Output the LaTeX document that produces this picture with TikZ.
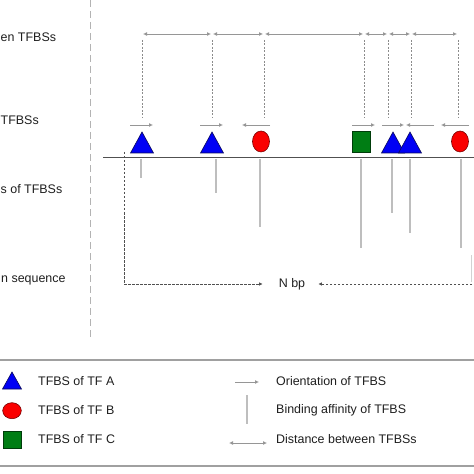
\documentclass[tikz,border=0pt]{standalone}
\usepackage{fontspec}
\setmainfont{Liberation Sans}
\usetikzlibrary{arrows.meta}
\definecolor{tfblue}{RGB}{0,0,245}
\definecolor{tfblueedge}{RGB}{10,10,90}
\definecolor{tfred}{RGB}{250,0,0}
\definecolor{tfrededge}{RGB}{120,0,0}
\definecolor{tfgreen}{RGB}{0,125,20}
\definecolor{tfgreenedge}{RGB}{0,60,10}
\definecolor{arrgray}{RGB}{150,150,150}
\definecolor{affgray}{RGB}{190,190,190}
\definecolor{guidegray}{RGB}{140,140,140}
\definecolor{seqgray}{RGB}{80,80,80}
\definecolor{rulegray}{RGB}{160,160,160}
\definecolor{txt}{RGB}{30,30,30}
\begin{document}
\begin{tikzpicture}[x=1bp,y=-1bp,
  lbl/.style={font=\fontsize{12.5}{14}\selectfont, inner sep=0pt, text=txt},
  tfa/.style={fill=tfblue, draw=tfblueedge, line width=0.6bp},
  tfb/.style={fill=tfred, draw=tfrededge, line width=0.6bp},
  tfc/.style={fill=tfgreen, draw=tfgreenedge, line width=0.6bp},
  orient/.style={draw=arrgray, line width=0.8bp, -{Latex[length=4bp,width=4bp]}},
  dist/.style={draw=arrgray, line width=0.8bp, {Latex[length=4bp,width=4bp]}-{Latex[length=4bp,width=4bp]}, shorten <=1bp, shorten >=1bp},
  guide/.style={draw=guidegray, line width=0.8bp, dash pattern=on 2bp off 1.5bp},
  affin/.style={draw=affgray, line width=1.3bp},
  bracket/.style={draw=seqgray, line width=0.8bp, dash pattern=on 2.5bp off 1.5bp},
  divider/.style={draw=rulegray!80, line width=1bp, dash pattern=on 7bp off 4bp},
  rulestyle/.style={draw=rulegray, line width=1.5bp},
  tria/.pic={\path[tfa] (-11.5,10.5) -- (0,-10.5) -- (11.5,10.5) -- cycle;},
  circb/.pic={\path[tfb] (0,0) ellipse [x radius=8.5, y radius=10.5];},
  sqc/.pic={\path[tfc] (-9,-10.5) rectangle (9,10.5);},
  ltria/.pic={\path[tfa] (-9.5,8.5) -- (0,-8.5) -- (9.5,8.5) -- cycle;},
  lcircb/.pic={\path[tfb] (0,0) ellipse [x radius=9.3, y radius=8];},
  lsqc/.pic={\path[tfc] (-9.2,-8.7) rectangle (9.2,8.7);}
]
\useasboundingbox (0,0) rectangle (474,474);

% divider
\coordinate (dvtop) at (90,0);
\coordinate (dvbot) at (90,340);
\draw[divider] (dvtop) -- (dvbot);

% left labels
\node[lbl, anchor=west] (l1) at (0.5,37) {en TFBSs};
\node[lbl, anchor=west] (l2) at (0.5,120) {TFBSs};
\node[lbl, anchor=west] (l3) at (0.5,189) {s of TFBSs};
\node[lbl, anchor=west] (l4) at (1,280) {n sequence};

% sequence line
\coordinate (seqL) at (103,157.5);
\coordinate (seqR) at (474,157.5);
\draw[seqgray, line width=1.4bp] (seqL) -- (seqR);

% sites
\pic (s1) at (142,142.5) {tria};
\pic (s2) at (212,142.5) {tria};
\pic (s3) at (261,141.5) {circb};
\pic (s4) at (361,141.5) {sqc};
\pic (s5) at (393,142.5) {tria};
\pic (s6) at (410,142.5) {tria};
\pic (s7) at (460,141.5) {circb};

% orientation arrows
\coordinate (o1a) at (130,125); \coordinate (o1b) at (153,125);
\coordinate (o2a) at (200,125); \coordinate (o2b) at (223,125);
\coordinate (o3a) at (270,125); \coordinate (o3b) at (242,125);
\coordinate (o4a) at (352,125); \coordinate (o4b) at (375,125);
\coordinate (o5a) at (382,125); \coordinate (o5b) at (404,125);
\coordinate (o6a) at (434,125); \coordinate (o6b) at (406,125);
\coordinate (o7a) at (469,125); \coordinate (o7b) at (441,125);
\foreach \i in {1,...,7}{\draw[orient] (o\i a) -- (o\i b);}

% guide lines and distance arrows
\foreach \i/\x in {1/142,2/212,3/264,4/364,5/388,6/411,7/458}{
  \coordinate (d\i) at (\x,34);
  \coordinate (g\i t) at (\x,40);
  \coordinate (g\i b) at (\x,118);
  \draw[guide] (g\i t) -- (g\i b);
}
\foreach \i/\j in {1/2,2/3,3/4,4/5,5/6,6/7}{\draw[dist] (d\i) -- (d\j);}

% binding affinities
\foreach \i/\x/\y in {1/141/178,2/216/193,3/260/227,4/361/248,5/392/213,6/410/233,7/461/248}{
  \coordinate (a\i t) at (\x,159);
  \coordinate (a\i b) at (\x,\y);
  \draw[affin] (a\i t) -- (a\i b);
}

% N bp bracket
\coordinate (bTop) at (124,152);
\coordinate (bCorner) at (124,284);
\node[lbl] (nbp) at (292,284) {N bp};
\coordinate (bRight) at (476,284);
\coordinate (bRtop) at (471,255);
\coordinate (bRbot) at (471,282);
\draw[bracket, -{Latex[length=3.5bp,width=3.5bp]}] (bTop) -- (bCorner) -- ([xshift=-16bp]nbp.west);
\draw[bracket, -{Latex[length=3.5bp,width=3.5bp]}] (bRight) -- ([xshift=13bp]nbp.east);
\draw[affgray!70, line width=0.8bp] (bRtop) -- (bRbot);

% legend frame
\coordinate (r1l) at (0,360); \coordinate (r1r) at (474,360);
\coordinate (r2l) at (0,466); \coordinate (r2r) at (474,466);
\draw[rulestyle] (r1l) -- (r1r);
\draw[rulestyle] (r2l) -- (r2r);

% legend left
\pic (k1) at (12,380.5) {ltria};
\pic (k2) at (12,410.7) {lcircb};
\pic (k3) at (12,439.5) {lsqc};
\node[lbl, anchor=west] (t1) at (38,381) {TFBS of TF A};
\node[lbl, anchor=west] (t2) at (38,410) {TFBS of TF B};
\node[lbl, anchor=west] (t3) at (38,439) {TFBS of TF C};

% legend right
\coordinate (ko1) at (235,382); \coordinate (ko2) at (259,382);
\draw[orient] (ko1) -- (ko2);
\coordinate (ka1) at (247,395); \coordinate (ka2) at (247,424);
\draw[affin] (ka1) -- (ka2);
\coordinate (kd1) at (229,443); \coordinate (kd2) at (267,443);
\draw[dist, shorten <=0bp, shorten >=0bp] (kd1) -- (kd2);
\node[lbl, anchor=west] (u1) at (276,381) {Orientation of TFBS};
\node[lbl, anchor=west] (u2) at (276,410) {Binding affinity of TFBS};
\node[lbl, anchor=west] (u3) at (276,439) {Distance between TFBSs};
\end{tikzpicture}
\end{document}
